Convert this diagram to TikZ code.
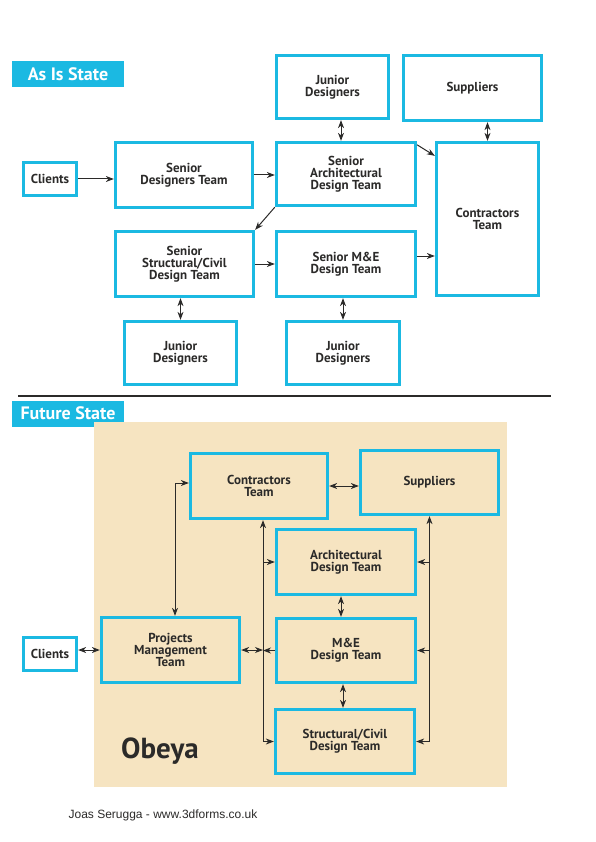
\documentclass[tikz,border=0pt]{standalone}
\usepackage{fontspec}
\setmainfont{PT Sans}
\newfontfamily\footfont{Liberation Sans}
\usetikzlibrary{arrows.meta, calc}
\definecolor{teamblue}{HTML}{1BB9E2}
\definecolor{obeya}{HTML}{F6E4C1}
\definecolor{ink}{HTML}{2B2A29}

\begin{document}
\begin{tikzpicture}[x=1pt, y=-1pt,
  team/.style={draw=teamblue, line width=3.3pt, align=center, text=ink, inner sep=0pt, font=\bfseries\fontsize{13}{12}\selectfont},
  tag/.style={fill=teamblue, text=white, inner sep=0pt, minimum width=112pt, minimum height=26pt, font=\bfseries\fontsize{18}{18}\selectfont},
  link/.style={draw=ink, line width=1pt, -{Stealth[length=8pt, width=6pt, inset=2.5pt]}},
  both/.style={link, {Stealth[length=8pt, width=6pt, inset=2.5pt]}-{Stealth[length=8pt, width=6pt, inset=2.5pt]}}]
  \useasboundingbox (0,0) rectangle (595,842);

  % as is state
  \node[tag] (asIs) at (68,74.5) {As Is State};
  \node[team, minimum width=53pt, minimum height=33pt] (clientsA) at (50,179) {Clients};
  \node[team, minimum width=137pt, minimum height=65pt] (seniorDes) at (184,175) {Senior\\Designers Team};
  \node[team, minimum width=112pt, minimum height=63pt] (juniorArch) at (332.5,87) {Junior\\Designers};
  \node[team, minimum width=138pt, minimum height=65pt] (suppliersA) at (472.5,88) {Suppliers};
  \node[team, minimum width=139pt, minimum height=63pt] (seniorArch) at (346,174) {Senior\\Architectural\\Design Team};
  \node[team, minimum width=102pt, minimum height=153pt] (contractorsA) at (487.5,219) {Contractors\\Team};
  \node[team, minimum width=139pt, minimum height=65pt] (seniorME) at (346,264) {Senior M\&E\\Design Team};
  \node[team, minimum width=138pt, minimum height=65pt] (seniorStruct) at (184.5,264) {Senior\\Structural/Civil\\Design Team};
  \node[team, minimum width=112pt, minimum height=63pt] (juniorStruct) at (180.5,353) {Junior\\Designers};
  \node[team, minimum width=113pt, minimum height=63pt] (juniorME) at (343,353) {Junior\\Designers};

  \draw[link] (clientsA.east) -- (clientsA.east -| seniorDes.west);
  \draw[link] (seniorDes.east) -- (seniorDes.east -| seniorArch.west);
  \draw[link] (seniorArch.south west) -- (seniorStruct.north east);
  \draw[link] ([yshift=-4pt]seniorArch.north east) -- ([yshift=-15pt]contractorsA.north west);
  \draw[both] ([xshift=8.5pt]juniorArch.south) -- ([xshift=8.5pt]juniorArch.south |- seniorArch.north);
  \draw[both] (contractorsA.north |- suppliersA.south) -- (contractorsA.north);
  \draw[link] (seniorStruct.east) -- (seniorStruct.east -| seniorME.west);
  \draw[link] ([yshift=8pt]seniorME.east) -- ([yshift=8pt]seniorME.east -| contractorsA.west);
  \draw[both] (juniorStruct.north |- seniorStruct.south) -- (juniorStruct.north);
  \draw[both] (juniorME.north |- seniorME.south) -- (juniorME.north);

  \draw[ink, line width=2.5pt] (18,396) -- (551,396);

  % future state
  \node[tag] (future) at (68,413.5) {Future State};
  \fill[obeya] (94,422) rectangle (507,787);
  \node[text=ink, font=\bfseries\fontsize{29}{29}\selectfont] (obeyaTag) at (160,751) {Obeya};
  \node[team, minimum width=137pt, minimum height=65pt] (contractorsF) at (259,486) {Contractors\\Team};
  \node[team, minimum width=138pt, minimum height=64pt] (suppliersF) at (429.5,482.5) {Suppliers};
  \node[team, minimum width=139pt, minimum height=65pt] (archF) at (346,562) {Architectural\\Design Team};
  \node[team, minimum width=139pt, minimum height=64pt] (meF) at (346,650.5) {M\&E\\Design Team};
  \node[team, minimum width=139pt, minimum height=64pt] (structF) at (345,741.5) {Structural/Civil\\Design Team};
  \node[team, minimum width=138pt, minimum height=65pt] (pmt) at (170.5,650) {Projects\\Management\\Team};
  \node[team, minimum width=53pt, minimum height=33pt] (clientsF) at (50,654) {Clients};
  \coordinate (busL) at ([xshift=4pt]contractorsF.south);
  \coordinate (busR) at (suppliersF.south);

  \draw[both] (pmt.west) -- (pmt.west -| clientsF.east);
  \draw[both] ([xshift=4.5pt]pmt.north) |- ([yshift=3pt]contractorsF.west);
  \draw[both] (contractorsF.east) -- (contractorsF.east -| suppliersF.west);
  \draw[both] (busL) |- (structF.west);
  \draw[link] (archF.west -| busL) -- (archF.west);
  \draw[both] (pmt.east) -- (pmt.east -| busL);
  \draw[link] (meF.west) -- (meF.west -| busL);
  \draw[both] (busR) |- (structF.east);
  \draw[link] (archF.east -| busR) -- (archF.east);
  \draw[link] (meF.east -| busR) -- (meF.east);
  \draw[both] ([xshift=-5pt]archF.south) -- ([xshift=-5pt]archF.south |- meF.north);
  \draw[both] ([xshift=-3pt]meF.south) -- ([xshift=-3pt]meF.south |- structF.north);

  \node[text=ink, font=\footfont\fontsize{12}{12}\selectfont] (credit) at (163,815) {Joas Serugga - www.3dforms.co.uk};
\end{tikzpicture}
\end{document}
